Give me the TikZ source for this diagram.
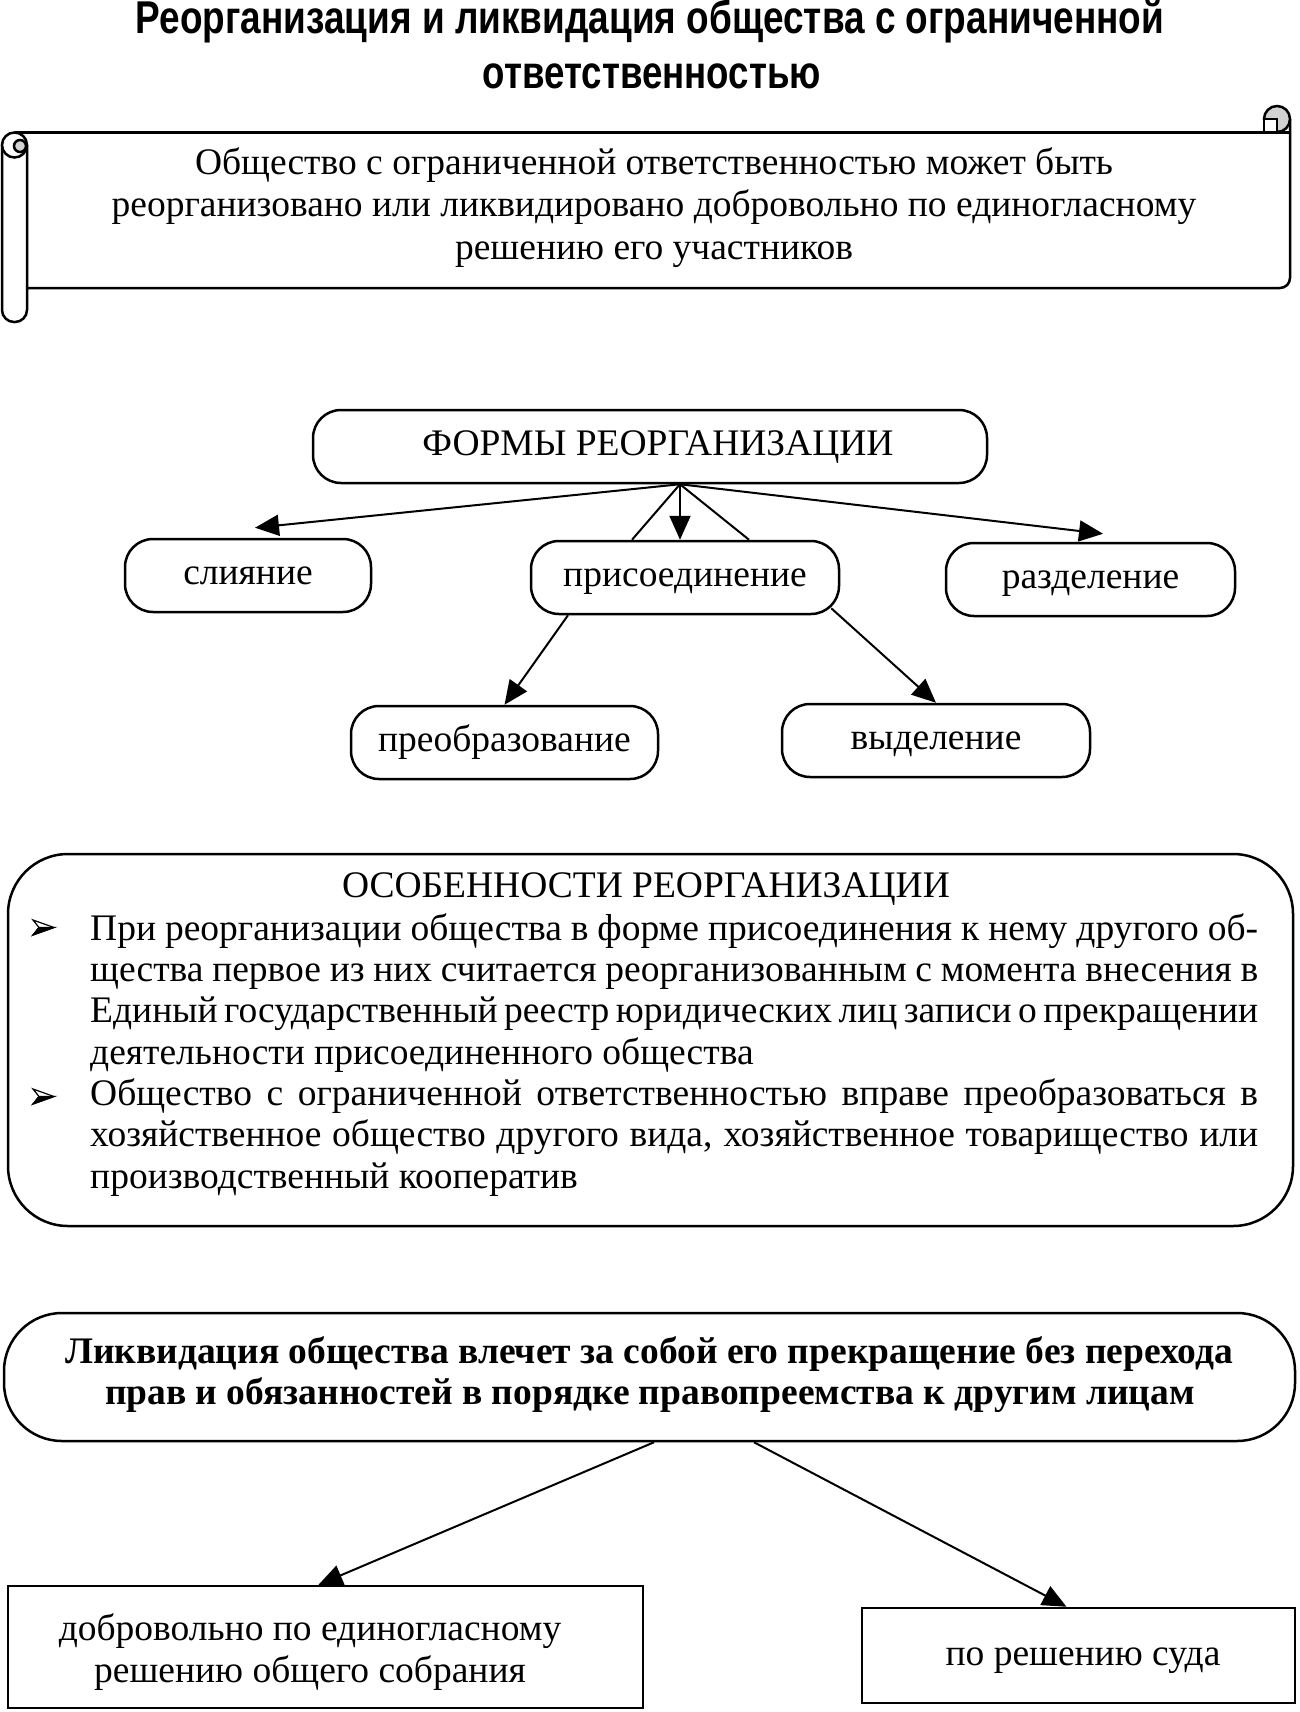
\documentclass[tikz,border=0pt]{standalone}
\usepackage{fontspec}
\setmainfont{Liberation Serif}
\newfontfamily\titlefont{Liberation Sans}
\usetikzlibrary{arrows.meta,calc}
\tikzset{
  pill/.style={draw, line width=2.5pt, rounded corners=28pt, minimum height=73pt,
    text height=25pt, text depth=8pt, inner sep=0pt, font=\fontsize{37.5}{41.5}\selectfont},
  conn/.style={line width=2pt, -{Triangle[length=24pt,width=21pt]}},
  plainline/.style={line width=2pt},
  body/.style={font=\fontsize{37.5}{41.5}\selectfont, inner sep=0pt},
  boldbody/.style={font=\fontsize{37.5}{41.5}\selectfont\bfseries, inner sep=0pt},
  frame/.style={draw, line width=2.5pt, inner sep=0pt},
  scroll/.style={line width=2.5pt},
  bullet/.style={line width=1.2pt, line join=miter},
}
\begin{document}
\begin{tikzpicture}[x=1pt,y=-1pt]
\fill[white] (0,0) rectangle (1299,1712);
\useasboundingbox (0,0) rectangle (1299,1712);

% ---------- title ----------
\node[anchor=base, inner sep=0pt] (title1) at (650,34)
  {\titlefont\bfseries\fontsize{46}{50}\selectfont\resizebox{1028pt}{\height}{Реорганизация и ликвидация общества с ограниченной}};
\node[anchor=base, inner sep=0pt] (title2) at (652,89)
  {\titlefont\bfseries\fontsize{46}{50}\selectfont\resizebox{338pt}{\height}{ответственностью}};

% ---------- scroll ----------
\draw[scroll, rounded corners=12pt] (2,145) -- (2,322) -- (27,322) -- (27,145);
\draw[scroll, fill=white] (14.5,145) circle[radius=12.5pt];
\filldraw[scroll, fill=gray!35] (20,146) circle[radius=6pt];
\draw[scroll, rounded corners=10pt] (27,288) -- (1290,288) -- (1290,119);
\filldraw[scroll, fill=gray!35] (1277,119) circle[radius=13pt];
\filldraw[scroll, fill=white] (1264,119) rectangle (1277,132);
\draw[scroll] (14.5,132.5) -- (1290,132.5);
\draw[scroll] (1290,119) -- (1290,140);

\node[body, anchor=base] (sc1) at (654,175) {Общество с ограниченной ответственностью может быть};
\node[body, anchor=base] (sc2) at (654,217) {реорганизовано или ликвидировано добровольно по единогласному};
\node[body, anchor=base] (sc3) at (654,259) {решению его участников};

% ---------- forms ----------
\node[pill, minimum width=674pt] (forms) at (650,446.5) {\hspace*{16pt}ФОРМЫ РЕОРГАНИЗАЦИИ};
\node[pill, minimum width=246pt] (sl) at (248,575.5) {слияние};
\node[pill, minimum width=308pt] (pris) at (685,577.5) {присоединение};
\node[pill, minimum width=289pt] (razd) at (1090.5,579.5) {разделение};
\node[pill, minimum width=307pt] (preob) at (504.5,742.5) {преобразование};
\node[pill, minimum width=308pt] (vyd) at (936,740.5) {выделение};

\coordinate (apex) at ($(forms.south)+(30,0)$);
\coordinate (slT) at ($(sl.north)+(7,-10)$);
\coordinate (razdT) at ($(razd.north)+(12.5,-8)$);
\coordinate (prisA) at ($(pris.north)+(-53,0)$);
\coordinate (prisB) at ($(pris.north)+(64,0)$);
\coordinate (prisL) at ($(pris.south)+(-117,0)$);
\coordinate (prisR) at ($(pris.south east)+(-9,-7)$);

\draw[conn] (apex) -- (slT);
\draw[conn] (apex) -- (razdT);
\draw[conn] (apex) -- (apex |- pris.north);
\draw[plainline] (prisA) -- (apex) -- (prisB);
\draw[conn] (prisL) -- (preob.north);
\draw[conn] (prisR) -- (vyd.north);

% ---------- features ----------
\node[frame, rounded corners=60pt, minimum width=1285pt, minimum height=372pt] (feat) at (650.5,1040) {};
\node[body, anchor=base] (feattitle) at (646,897) {ОСОБЕННОСТИ РЕОРГАНИЗАЦИИ};
\filldraw[bullet, fill=white] (33,920) -- (54,927.5) -- (33,935) -- (39,927.5) -- cycle;
\filldraw[bullet] (39,927.5) -- (54,927.5) -- (33,935) -- cycle;
\filldraw[bullet, fill=white] (33,1089) -- (54,1096.5) -- (33,1104) -- (39,1096.5) -- cycle;
\filldraw[bullet] (39,1096.5) -- (54,1096.5) -- (33,1104) -- cycle;
\node[body, anchor=base west] (f1) at (90,940) {\makebox[1168pt][s]{При реорганизации общества в форме присоединения к нему другого об-}};
\node[body, anchor=base west] (f2) at (90,981.3) {\makebox[1168pt][s]{щества первое из них считается реорганизованным с момента внесения в}};
\node[body, anchor=base west] (f3) at (90,1022.6) {\makebox[1168pt][s]{Единый государственный реестр юридических лиц записи о прекращении}};
\node[body, anchor=base west] (f4) at (90,1064) {деятельности присоединенного общества};
\node[body, anchor=base west] (f5) at (90,1105.3) {\makebox[1168pt][s]{Общество с ограниченной ответственностью вправе преобразоваться в}};
\node[body, anchor=base west] (f6) at (90,1146.6) {\makebox[1168pt][s]{хозяйственное общество другого вида, хозяйственное товарищество или}};
\node[body, anchor=base west] (f7) at (90,1188) {производственный кооператив};

% ---------- liquidation ----------
\node[frame, rounded corners=58pt, minimum width=1291pt, minimum height=128pt] (liq) at (649.5,1377) {};
\node[boldbody, anchor=base] (lq1) at (649,1363) {Ликвидация общества влечет за собой его прекращение без перехода};
\node[boldbody, anchor=base] (lq2) at (650,1404) {прав и обязанностей в порядке правопреемства к другим лицам};

\node[frame, minimum width=635pt, minimum height=122pt] (lbox) at (325.5,1647) {};
\node[frame, minimum width=433pt, minimum height=95pt] (rbox) at (1078.5,1655.5) {};
\node[body, anchor=base] (lb1) at (310,1640) {добровольно по единогласному};
\node[body, anchor=base] (lb2) at (310,1682) {решению общего собрания};
\node[body, anchor=base] (rb1) at (1083,1665) {по решению суда};

\coordinate (liqL) at ($(liq.south)+(4.5,0)$);
\coordinate (liqR) at ($(liq.south)+(104.5,0)$);
\coordinate (lboxT) at ($(lbox.north)+(-7,0)$);
\coordinate (rboxT) at ($(rbox.north)+(-12,0)$);
\draw[conn] (liqL) -- (lboxT);
\draw[conn] (liqR) -- (rboxT);
\end{tikzpicture}
\end{document}
